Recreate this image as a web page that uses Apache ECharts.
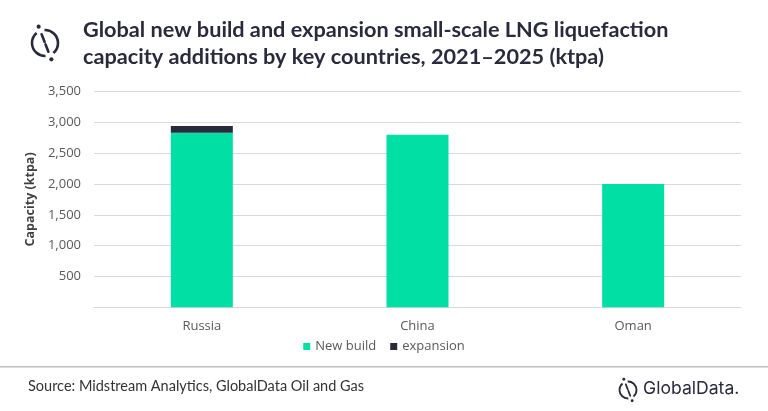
<!DOCTYPE html>
<html>
<head>
<meta charset="utf-8">
<script src="https://cdn.jsdelivr.net/npm/echarts@6/dist/echarts.min.js"></script>
<style>
html,body{margin:0;padding:0;background:#fff;}
#chart{width:768px;height:411px;}
</style>
</head>
<body>
<div id="chart"></div>
<script>
const categories = ['Russia', 'China', 'Oman'];
const newBuild = [2830, 2800, 2000];
const expansion = [110, null, null];
const yTicks = { min: 0, max: 3500, interval: 500 };
const titleLines = ['Global new build and expansion small-scale LNG liquefaction', 'capacity additions by key countries, 2021\u20132025 (ktpa)'];
const sourceText = 'Source: Midstream Analytics, GlobalData Oil and Gas';

const GREEN = '#02DFA4';
const DARK = '#2A2A3D';
const GRAY = '#595959';

function logo(cx, cy, r, lw) {
  const a = Math.atan2(18, 7); // direction of slash
  const dx = Math.cos(a), dy = Math.sin(a);
  const gap = 0.33;
  const top = -Math.PI + a;
  return [
    { type: 'arc', shape: { cx, cy, r, startAngle: top + gap, endAngle: a - gap }, style: { stroke: DARK, lineWidth: lw, fill: null } },
    { type: 'arc', shape: { cx, cy, r, startAngle: a + gap, endAngle: top + 2 * Math.PI - gap }, style: { stroke: DARK, lineWidth: lw, fill: null } },
    { type: 'line', shape: { x1: cx - dx * r * 0.72, y1: cy - dy * r * 0.72, x2: cx - dx * r * 0.08, y2: cy - dy * r * 0.08 }, style: { stroke: DARK, lineWidth: lw, lineCap: 'round' } },
    { type: 'line', shape: { x1: cx + dx * r * 0.12, y1: cy + dy * r * 0.12, x2: cx + dx * r * 0.72, y2: cy + dy * r * 0.72 }, style: { stroke: DARK, lineWidth: lw, lineCap: 'round' } },
    { type: 'circle', shape: { cx: cx - dx * r * 1.35, cy: cy - dy * r * 1.35, r: lw * 0.8 }, style: { fill: DARK } },
    { type: 'circle', shape: { cx: cx + dx * r * 1.35, cy: cy + dy * r * 1.35, r: lw * 0.8 }, style: { fill: DARK } }
  ];
}

const chart = echarts.init(document.getElementById('chart'), null, { renderer: 'canvas' });
chart.setOption({
  animation: false,
  backgroundColor: '#ffffff',
  textStyle: { fontFamily: 'Open Sans' },
  grid: { left: 94, right: 27, top: 91.5, bottom: 103.7 },
  legend: {
    data: ['New build', 'expansion'],
    bottom: 53,
    left: 'center',
    itemWidth: 7, itemHeight: 7, itemGap: 14,
    icon: 'rect',
    textStyle: { color: GRAY, fontSize: 13, fontFamily: 'Open Sans' }
  },
  xAxis: {
    type: 'category',
    data: categories,
    axisLine: { lineStyle: { color: '#d9d9d9', width: 1 } },
    axisTick: { show: false },
    axisLabel: { color: GRAY, fontSize: 13, margin: 12 }
  },
  yAxis: {
    type: 'value',
    min: yTicks.min, max: yTicks.max, interval: yTicks.interval,
    name: 'Capacity (ktpa)',
    nameLocation: 'middle',
    nameRotate: 90,
    nameGap: 55,
    nameTextStyle: { color: '#404040', fontSize: 12.5, fontWeight: 'bold' },
    axisLine: { show: false },
    axisTick: { show: false },
    splitLine: { lineStyle: { color: '#d9d9d9', width: 1 } },
    axisLabel: {
      color: GRAY, fontSize: 13, margin: 13,
      formatter: v => v === 0 ? '' : v.toLocaleString('en-US')
    }
  },
  series: [
    { name: 'New build', type: 'bar', stack: 'c', data: newBuild, barWidth: 62, itemStyle: { color: GREEN } },
    { name: 'expansion', type: 'bar', stack: 'c', data: expansion, barWidth: 62, itemStyle: { color: DARK } }
  ],
  graphic: [
    ...logo(45, 43, 13, 2.6),
    { type: 'text', left: 83, top: 17, style: { text: titleLines.join('\n'), font: 'bold 21.7px Lato', fill: DARK, lineHeight: 26.5 } },
    { type: 'rect', shape: { x: 0, y: 366, width: 768, height: 1.5 }, style: { fill: '#c0c0c0' } },
    { type: 'text', left: 28, top: 379, style: { text: sourceText, font: '14.5px Lato', fill: '#333333' } },
    ...logo(628, 390, 8.5, 1.8),
    { type: 'text', left: 643, top: 380, style: { text: 'GlobalData.', font: '17.6px Inter', fill: DARK } }
  ]
});
</script>
</body>
</html>
